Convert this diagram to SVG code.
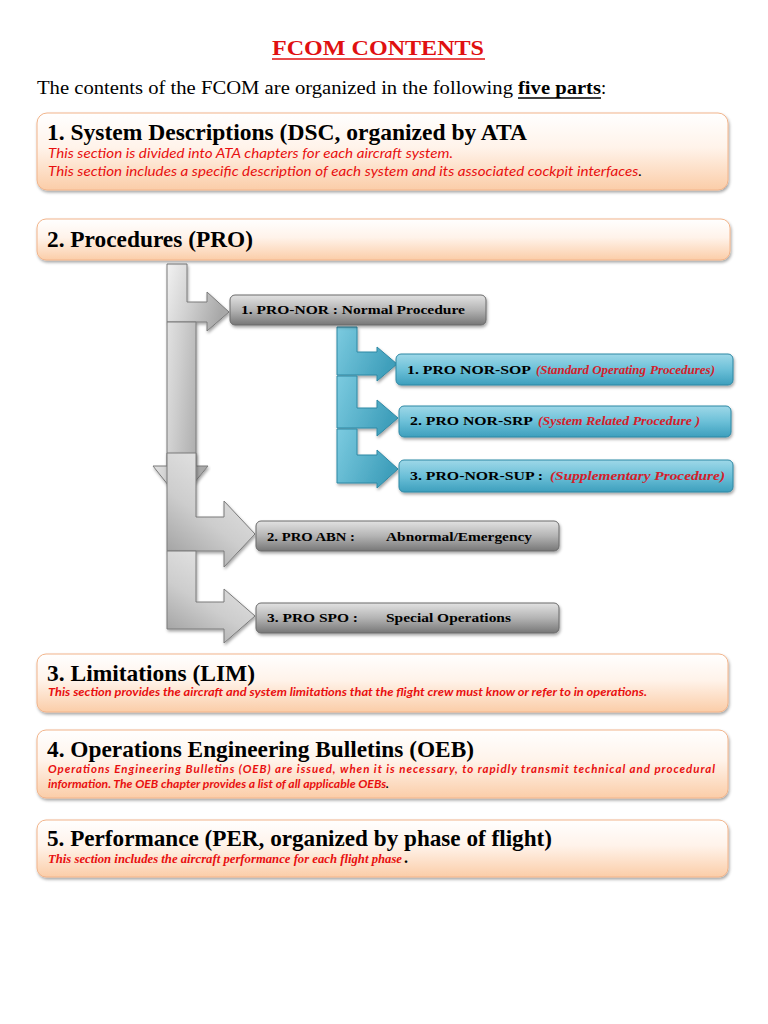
<svg xmlns="http://www.w3.org/2000/svg" width="768" height="1024" viewBox="0 0 768 1024">
<defs>
<linearGradient id="gOrange" x1="0" y1="0" x2="0" y2="1"><stop offset="0" stop-color="#ffffff"/><stop offset="0.45" stop-color="#fff3ea"/><stop offset="1" stop-color="#fbcda8"/></linearGradient>
<linearGradient id="gGray" x1="0" y1="0" x2="0" y2="1"><stop offset="0" stop-color="#e2e2e2"/><stop offset="0.5" stop-color="#b4b4b4"/><stop offset="1" stop-color="#777777"/></linearGradient>
<linearGradient id="gBlue" x1="0" y1="0" x2="0" y2="1"><stop offset="0" stop-color="#9ed8e8"/><stop offset="0.5" stop-color="#6cc0d8"/><stop offset="1" stop-color="#3d9fbd"/></linearGradient>
<linearGradient id="gArrowGray" x1="0" y1="0" x2="1" y2="0.3"><stop offset="0" stop-color="#f2f2f2"/><stop offset="0.5" stop-color="#cfcfcf"/><stop offset="1" stop-color="#a8a8a8"/></linearGradient>
<linearGradient id="gArrowGray2" x1="0" y1="1" x2="0.6" y2="0"><stop offset="0" stop-color="#9a9a9a"/><stop offset="0.5" stop-color="#cdcdcd"/><stop offset="1" stop-color="#e6e6e6"/></linearGradient>
<linearGradient id="gArrowBlue" x1="0" y1="0" x2="1" y2="0.4"><stop offset="0" stop-color="#7ccbe0"/><stop offset="1" stop-color="#3f9fbb"/></linearGradient>
<filter id="shadow" x="-5%" y="-20%" width="110%" height="150%"><feDropShadow dx="1" dy="2" stdDeviation="1.5" flood-color="#000" flood-opacity="0.35"/></filter>
</defs>
<style>
.obox{fill:url(#gOrange);stroke:#f2b48a;stroke-width:1;filter:url(#shadow)}
.gbox{fill:url(#gGray);stroke:#6a6a6a;stroke-width:1;filter:url(#shadow)}
.bbox{fill:url(#gBlue);stroke:#2f88a4;stroke-width:1;filter:url(#shadow)}
.garrow{fill:url(#gArrowGray);stroke:#7a7a7a;stroke-width:1;filter:url(#shadow)}
.garrow2{fill:url(#gArrowGray2);stroke:#7a7a7a;stroke-width:1;filter:url(#shadow)}
.barrow{fill:url(#gArrowBlue);stroke:#2f88a4;stroke-width:1;filter:url(#shadow)}
.title{font-family:"Liberation Serif",serif;font-weight:bold;font-size:24px;fill:#000}
.red{font-family:Lato,"Liberation Sans",sans-serif;font-style:italic;font-size:13px;fill:#e81010}
.redb{font-family:Lato,"Liberation Sans",sans-serif;font-style:italic;font-weight:bold;font-size:11.5px;fill:#e81010}
.lbl{font-family:"Liberation Serif",serif;font-weight:bold;font-size:13.5px;fill:#000}
.lred{font-family:"Liberation Serif",serif;font-weight:bold;font-style:italic;font-size:13px;fill:#d4202a}
.intro{font-family:"Liberation Serif",serif;font-size:18.5px;fill:#000}
</style>
<rect width="768" height="1024" fill="#fff"/>

<g id="header">
<text x="378" y="55" text-anchor="middle" font-family="Liberation Serif,serif" font-weight="bold" font-size="22" fill="#e01010" textLength="212" lengthAdjust="spacingAndGlyphs">FCOM CONTENTS</text>
<line x1="272" y1="59" x2="485" y2="59" stroke="#e01010" stroke-width="1.5"/>
<text class="intro" x="37" y="94" textLength="476" lengthAdjust="spacingAndGlyphs">The contents of the FCOM are organized in the following</text>
<text class="intro" x="518" y="94" font-weight="bold" textLength="83" lengthAdjust="spacingAndGlyphs">five parts</text>
<text class="intro" x="601" y="94">:</text>
<line x1="518" y1="98" x2="601" y2="98" stroke="#000" stroke-width="1.5"/>
</g>

<g id="connectors">
<polygon class="garrow" points="167,264 187,264 187,302 207,302 207,292 229,312 207,331 207,322 167,322"/>
<polygon class="garrow" points="167,322 196,322 196,466 208,466 180,500 153,466 167,466"/>
<polygon class="garrow2" points="167,453 196,453 196,517 224,517 224,501 255,534 224,567 224,551 167,551"/>
<polygon class="garrow2" points="167,551 196,551 196,602 224,602 224,589 255,616 224,643 224,629 167,629"/>
<polygon class="barrow" points="337,327 357,327 357,352 377,352 377,347 397,364 377,381 377,375 337,375"/>
<polygon class="barrow" points="337,376 357,376 357,408 377,408 377,400 398,418 377,436 377,428 337,428"/>
<polygon class="barrow" points="337,429 357,429 357,455 377,455 377,450 398,469 377,488 377,483 337,483"/>
</g>

<g id="dsc">
<rect class="obox" x="37" y="113" width="691" height="77" rx="10"/>
<text class="title" x="47" y="140" textLength="480" lengthAdjust="spacingAndGlyphs">1. System Descriptions (DSC, organized by ATA</text>
<text class="red" x="48" y="158" textLength="405" lengthAdjust="spacingAndGlyphs">This section is divided into ATA chapters for each aircraft system.</text>
<text class="red" x="48" y="176" textLength="594" lengthAdjust="spacingAndGlyphs">This section includes a specific description of each  system and its  associated cockpit interfaces<tspan fill="#000">.</tspan></text>
</g>

<g id="pro">
<rect class="obox" x="37" y="219" width="693" height="41" rx="9"/>
<text class="title" x="47" y="247" textLength="206" lengthAdjust="spacingAndGlyphs">2. Procedures (PRO)</text>
</g>

<g id="pro-nor">
<rect class="gbox" x="230" y="295" width="256" height="30" rx="5"/>
<text class="lbl" x="241" y="314" textLength="224" lengthAdjust="spacingAndGlyphs">1. PRO-NOR : Normal Procedure</text>
</g>

<g id="pro-nor-sop">
<rect class="bbox" x="396" y="354" width="337" height="31" rx="5"/>
<text class="lbl" x="407" y="374" textLength="124" lengthAdjust="spacingAndGlyphs">1.  PRO NOR-SOP</text>
<text class="lred" x="536" y="374" font-size="12" textLength="110" lengthAdjust="spacingAndGlyphs">(Standard Operating</text>
<text class="lred" x="650" y="374" font-size="12" font-style="normal" textLength="65" lengthAdjust="spacingAndGlyphs">Procedures)</text>
</g>

<g id="pro-nor-srp">
<rect class="bbox" x="399" y="406" width="332" height="31" rx="5"/>
<text class="lbl" x="410" y="425" textLength="123" lengthAdjust="spacingAndGlyphs">2. PRO NOR-SRP</text>
<text class="lred" x="538" y="425" textLength="162" lengthAdjust="spacingAndGlyphs">(System Related Procedure )</text>
</g>

<g id="pro-nor-sup">
<rect class="bbox" x="399" y="460" width="334" height="32" rx="5"/>
<text class="lbl" x="410" y="480" textLength="133" lengthAdjust="spacingAndGlyphs">3. PRO-NOR-SUP :</text>
<text class="lred" x="550" y="480" textLength="175" lengthAdjust="spacingAndGlyphs">(Supplementary Procedure)</text>
</g>

<g id="pro-abn">
<rect class="gbox" x="256" y="521" width="303" height="30" rx="5"/>
<text class="lbl" x="267" y="541" textLength="88" lengthAdjust="spacingAndGlyphs">2. PRO ABN :</text>
<text class="lbl" x="386" y="541" textLength="146" lengthAdjust="spacingAndGlyphs">Abnormal/Emergency</text>
</g>

<g id="pro-spo">
<rect class="gbox" x="256" y="603" width="303" height="30" rx="5"/>
<text class="lbl" x="267" y="622" textLength="91" lengthAdjust="spacingAndGlyphs">3. PRO SPO :</text>
<text class="lbl" x="386" y="622" textLength="125" lengthAdjust="spacingAndGlyphs">Special Operations</text>
</g>

<g id="lim">
<rect class="obox" x="37" y="654" width="691" height="58" rx="9"/>
<text class="title" x="47" y="681" textLength="208" lengthAdjust="spacingAndGlyphs">3. Limitations (LIM)</text>
<text class="redb" x="48" y="696" textLength="599" lengthAdjust="spacingAndGlyphs">This section provides the aircraft and system limitations that the flight crew must know or refer to in operations.</text>
</g>

<g id="oeb">
<rect class="obox" x="37" y="730" width="691" height="68" rx="9"/>
<text class="title" x="47" y="757" textLength="427" lengthAdjust="spacingAndGlyphs">4. Operations Engineering Bulletins (OEB)</text>
<text class="redb" x="48" y="773" textLength="667" lengthAdjust="spacing">Operations Engineering Bulletins (OEB) are issued, when it is necessary, to rapidly transmit technical and procedural</text>
<text class="redb" x="48" y="788" textLength="341" lengthAdjust="spacingAndGlyphs">information. The OEB chapter provides a list of all applicable OEBs<tspan fill="#000">.</tspan></text>
</g>

<g id="per">
<rect class="obox" x="37" y="820" width="691" height="57" rx="9"/>
<text class="title" x="47" y="846" textLength="505" lengthAdjust="spacingAndGlyphs">5. Performance (PER, organized by phase of flight)</text>
<text x="48" y="863" font-family="Liberation Serif,serif" font-style="italic" font-weight="bold" font-size="12" fill="#e81010" textLength="354" lengthAdjust="spacingAndGlyphs">This section includes the aircraft performance for each flight phase</text>
<text x="404" y="863" font-family="Liberation Serif,serif" font-weight="bold" font-size="16" fill="#000">.</text>
</g>
</svg>
